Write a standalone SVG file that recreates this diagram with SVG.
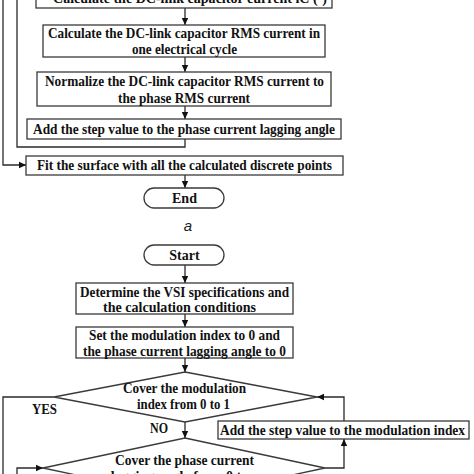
<svg xmlns="http://www.w3.org/2000/svg" width="474" height="474" viewBox="0 0 474 474">
<style>
.b{fill:#fff;stroke:#3a3a3a;stroke-width:1.3}
.t{font-family:"Liberation Serif","Times New Roman",serif;font-weight:bold;font-size:14px;fill:#111}
.c{fill:none;stroke:#2a2a2a;stroke-width:1.3}
.l{font-family:"Liberation Sans",Arial,sans-serif;font-style:italic;font-size:15px;fill:#222}
</style>
<defs>
<marker id="ah" markerWidth="8" markerHeight="8" refX="7" refY="4" orient="auto" markerUnits="userSpaceOnUse">
<path d="M0,0.8 L7,4 L0,7.2 Z" fill="#111"/>
</marker>
</defs>
<rect width="474" height="474" fill="#fff"/>
<g id="connectors">
<line class="c" x1="185" y1="8" x2="185" y2="25" marker-end="url(#ah)"/>
<line class="c" x1="185" y1="57" x2="185" y2="72" marker-end="url(#ah)"/>
<line class="c" x1="185" y1="106" x2="185" y2="119" marker-end="url(#ah)"/>
<polyline class="c" points="185,139 185,147 17,147 17,0"/>
<polyline class="c" points="3,0 3,165 26,165" marker-end="url(#ah)"/>
<line class="c" x1="185" y1="175" x2="185" y2="188" marker-end="url(#ah)"/>
<line class="c" x1="185" y1="265" x2="185" y2="283" marker-end="url(#ah)"/>
<line class="c" x1="185" y1="314" x2="185" y2="327" marker-end="url(#ah)"/>
<line class="c" x1="185" y1="358" x2="185" y2="372" marker-end="url(#ah)"/>
<line class="c" x1="185" y1="422" x2="185" y2="438" marker-end="url(#ah)"/>
<polyline class="c" points="54,397 3,397 3,474"/>
<polyline class="c" points="17,474 17,468 43,468" marker-end="url(#ah)"/>
<polyline class="c" points="344,421 344,397 317,397" marker-end="url(#ah)"/>
<polyline class="c" points="325,468 344,468 344,439" marker-end="url(#ah)"/>
</g>
<g id="calc-current">
<rect class="b" x="36" y="-20" width="296" height="28"/>
<text class="t" x="53" y="3" textLength="274" lengthAdjust="spacingAndGlyphs">Calculate the DC-link capacitor current iC (·)</text>
</g>
<g id="calc-rms">
<rect class="b" x="43" y="25" width="282" height="32"/>
<text class="t" x="48" y="38" textLength="272" lengthAdjust="spacingAndGlyphs">Calculate the DC-link capacitor RMS current in</text>
<text class="t" x="132" y="53.5" textLength="105" lengthAdjust="spacingAndGlyphs">one electrical cycle</text>
</g>
<g id="normalize">
<rect class="b" x="37" y="72" width="294" height="34"/>
<text class="t" x="45" y="86" textLength="279" lengthAdjust="spacingAndGlyphs">Normalize the DC-link capacitor RMS current to</text>
<text class="t" x="118" y="102.5" textLength="132" lengthAdjust="spacingAndGlyphs">the phase RMS current</text>
</g>
<g id="add-angle">
<rect class="b" x="27" y="119" width="314" height="20"/>
<text class="t" x="33" y="134" textLength="302" lengthAdjust="spacingAndGlyphs">Add the step value to the phase current lagging angle</text>
</g>
<g id="fit">
<rect class="b" x="26" y="156" width="317" height="19"/>
<text class="t" x="37" y="170" textLength="295" lengthAdjust="spacingAndGlyphs">Fit the surface with all the calculated discrete points</text>
</g>
<g id="end">
<rect class="b" x="144" y="188" width="80" height="20" rx="10" ry="10"/>
<text class="t" x="184.5" y="203" text-anchor="middle">End</text>
</g>
<text class="l" x="188" y="231" text-anchor="middle">a</text>
<g id="start">
<rect class="b" x="144" y="245" width="80" height="20" rx="10" ry="10"/>
<text class="t" x="184.5" y="260" text-anchor="middle">Start</text>
</g>
<g id="determine">
<rect class="b" x="76" y="283" width="217" height="31"/>
<text class="t" x="80" y="297" textLength="209" lengthAdjust="spacingAndGlyphs">Determine the VSI specifications and</text>
<text class="t" x="103" y="312" textLength="153" lengthAdjust="spacingAndGlyphs">the calculation conditions</text>
</g>
<g id="set">
<rect class="b" x="76" y="327" width="217" height="31"/>
<text class="t" x="89" y="340" textLength="191" lengthAdjust="spacingAndGlyphs">Set the modulation index to 0 and</text>
<text class="t" x="83" y="356" textLength="203" lengthAdjust="spacingAndGlyphs">the phase current lagging angle to 0</text>
</g>
<g id="cover-mod">
<polygon class="b" points="185,372 317,397 185,422 54,397"/>
<text class="t" x="123" y="393" textLength="123" lengthAdjust="spacingAndGlyphs">Cover the modulation</text>
<text class="t" x="137" y="409" textLength="93" lengthAdjust="spacingAndGlyphs">index from 0 to 1</text>
</g>
<text class="t" x="32" y="414" textLength="25" lengthAdjust="spacingAndGlyphs">YES</text>
<text class="t" x="150" y="433" textLength="18" lengthAdjust="spacingAndGlyphs">NO</text>
<g id="add-mod">
<rect class="b" x="218" y="421" width="251" height="18"/>
<text class="t" x="220" y="434.5" font-size="13" textLength="245" lengthAdjust="spacingAndGlyphs">Add the step value to the modulation index</text>
</g>
<g id="cover-angle">
<polygon class="b" points="185,438 325,468 185,498 43,468"/>
<text class="t" x="115" y="465" textLength="139" lengthAdjust="spacingAndGlyphs">Cover the phase current</text>
<text class="t" x="185" y="481" text-anchor="middle">lagging angle from 0 to π</text>
</g>
</svg>
